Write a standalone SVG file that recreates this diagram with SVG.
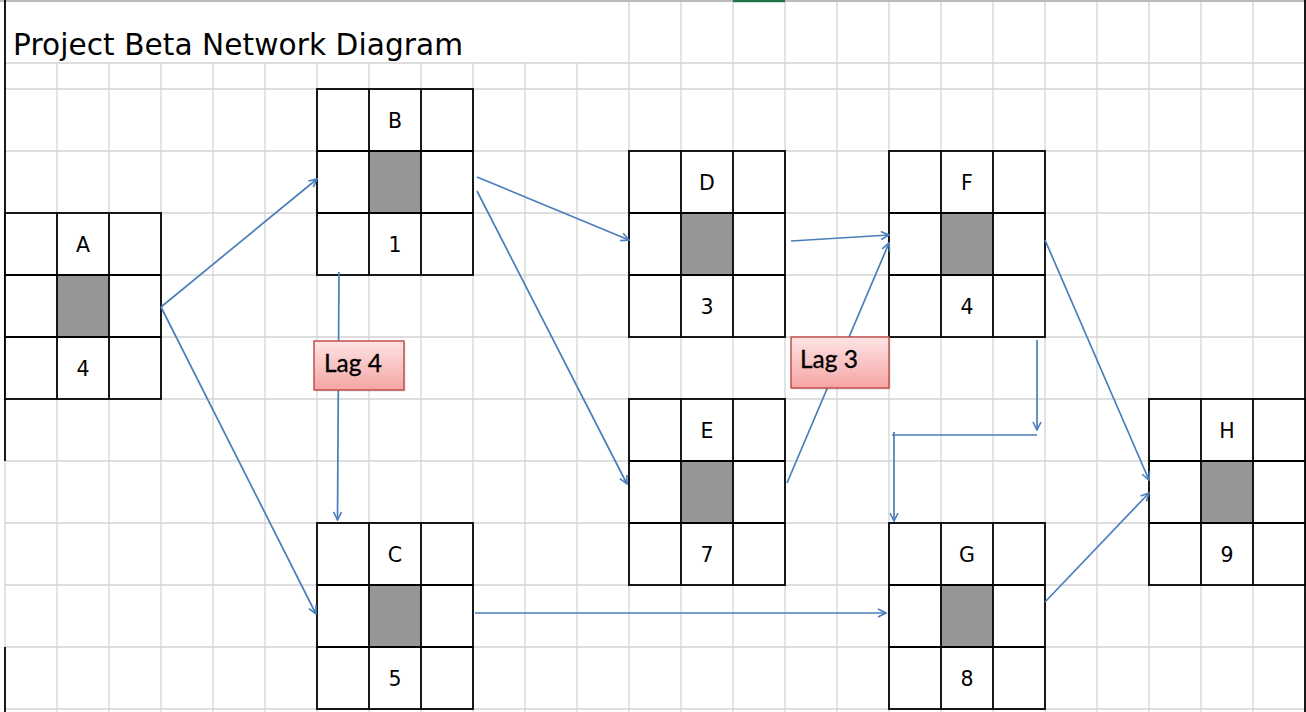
<svg xmlns="http://www.w3.org/2000/svg" width="1306" height="712" viewBox="0 0 1306 712">
<defs>
<style>
.grid{stroke:#d4d4d4;stroke-width:1.3;fill:none}
.cell{fill:#fff;stroke:#000;stroke-width:1.8}
.ln{stroke:#000;stroke-width:1.8}
.mid{fill:#969696}
.lbl{font-family:"DejaVu Sans","Verdana",sans-serif;font-size:20.5px;fill:#000;text-anchor:middle}
.con{stroke:#4a7ebb;stroke-width:1.7;fill:none}
.arr{marker-end:url(#ah)}
.lag{fill:url(#pink);stroke:#c0504d;stroke-width:1.5}
.lagt{font-family:Lato,"Open Sans",sans-serif;font-size:24.5px;fill:#000;stroke:#000;stroke-width:0.3}
</style>
<linearGradient id="pink" x1="0" y1="0" x2="0" y2="1">
<stop offset="0" stop-color="#fde4e4"/>
<stop offset="1" stop-color="#f6a4a4"/>
</linearGradient>
<marker id="ah" viewBox="0 0 10 10" refX="9" refY="5" markerWidth="10" markerHeight="10" markerUnits="userSpaceOnUse" orient="auto">
<path d="M1,1 L9,5 L1,9" fill="none" stroke="#4a7ebb" stroke-width="1.6"/>
</marker>
</defs>
<rect x="0" y="0" width="1306" height="712" fill="#fff"/>
<g id="sheet-grid">
<path class="grid" d="M57,63V712M109,63V712M161,63V712M213,63V712M265,63V712M317,63V712M369,63V712M421,63V712M473,63V712M525,63V712M577,63V712M629,2V712M681,2V712M733,2V712M785,2V712M837,2V712M889,2V712M941,2V712M993,2V712M1045,2V712M1097,2V712M1149,2V712M1201,2V712M1253,2V712"/>
<path class="grid" d="M5,63H1305M5,89H1305M5,151H1305M5,213H1305M5,275H1305M5,337H1305M5,399H1305M5,461H1305M5,523H1305M5,585H1305M5,647H1305M5,709H1305"/>
<path class="grid" d="M5,461V647"/>
<line x1="0" y1="1" x2="1306" y2="1" stroke="#bbbbbb" stroke-width="2"/>
<line x1="733" y1="1" x2="785" y2="1" stroke="#217346" stroke-width="2.5"/>
<path d="M5,0V461M5,647V712M1305,0V712" stroke="#000" stroke-width="1.8"/>
</g>
<text x="13" y="55" font-family="DejaVu Sans,Verdana,sans-serif" font-size="29.6" textLength="450" fill="#000">Project Beta Network Diagram</text>
<g id="node-A">
<rect class="cell" x="5" y="213" width="156" height="186"/>
<rect class="mid" x="57" y="275" width="52" height="62"/>
<path class="ln" d="M57,213V399M109,213V399M5,275H161M5,337H161"/>
<text class="lbl" x="83" y="251.5">A</text>
<text class="lbl" x="83" y="375.5">4</text>
</g>
<g id="node-B">
<rect class="cell" x="317" y="89" width="156" height="186"/>
<rect class="mid" x="369" y="151" width="52" height="62"/>
<path class="ln" d="M369,89V275M421,89V275M317,151H473M317,213H473"/>
<text class="lbl" x="395" y="127.5">B</text>
<text class="lbl" x="395" y="251.5">1</text>
</g>
<g id="node-C">
<rect class="cell" x="317" y="523" width="156" height="186"/>
<rect class="mid" x="369" y="585" width="52" height="62"/>
<path class="ln" d="M369,523V709M421,523V709M317,585H473M317,647H473"/>
<text class="lbl" x="395" y="561.5">C</text>
<text class="lbl" x="395" y="685.5">5</text>
</g>
<g id="node-D">
<rect class="cell" x="629" y="151" width="156" height="186"/>
<rect class="mid" x="681" y="213" width="52" height="62"/>
<path class="ln" d="M681,151V337M733,151V337M629,213H785M629,275H785"/>
<text class="lbl" x="707" y="189.5">D</text>
<text class="lbl" x="707" y="313.5">3</text>
</g>
<g id="node-E">
<rect class="cell" x="629" y="399" width="156" height="186"/>
<rect class="mid" x="681" y="461" width="52" height="62"/>
<path class="ln" d="M681,399V585M733,399V585M629,461H785M629,523H785"/>
<text class="lbl" x="707" y="437.5">E</text>
<text class="lbl" x="707" y="561.5">7</text>
</g>
<g id="node-F">
<rect class="cell" x="889" y="151" width="156" height="186"/>
<rect class="mid" x="941" y="213" width="52" height="62"/>
<path class="ln" d="M941,151V337M993,151V337M889,213H1045M889,275H1045"/>
<text class="lbl" x="967" y="189.5">F</text>
<text class="lbl" x="967" y="313.5">4</text>
</g>
<g id="node-G">
<rect class="cell" x="889" y="523" width="156" height="186"/>
<rect class="mid" x="941" y="585" width="52" height="62"/>
<path class="ln" d="M941,523V709M993,523V709M889,585H1045M889,647H1045"/>
<text class="lbl" x="967" y="561.5">G</text>
<text class="lbl" x="967" y="685.5">8</text>
</g>
<g id="node-H">
<rect class="cell" x="1149" y="399" width="156" height="186"/>
<rect class="mid" x="1201" y="461" width="52" height="62"/>
<path class="ln" d="M1201,399V585M1253,399V585M1149,461H1305M1149,523H1305"/>
<text class="lbl" x="1227" y="437.5">H</text>
<text class="lbl" x="1227" y="561.5">9</text>
</g>
<g id="connectors">
<line class="con arr" x1="161" y1="307" x2="317" y2="179"/>
<line class="con arr" x1="161" y1="307" x2="316" y2="614"/>
<line class="con arr" x1="339" y1="272" x2="337.5" y2="520"/>
<line class="con arr" x1="477" y1="177" x2="629" y2="240"/>
<line class="con arr" x1="477" y1="191" x2="627" y2="484"/>
<line class="con arr" x1="791" y1="241" x2="889" y2="235"/>
<line class="con arr" x1="787" y1="483" x2="889" y2="243"/>
<line class="con arr" x1="1037" y1="340" x2="1037" y2="430"/>
<line class="con" x1="1037" y1="435" x2="892" y2="435"/>
<line class="con arr" x1="894" y1="432" x2="894" y2="521"/>
<line class="con arr" x1="475" y1="613" x2="886" y2="613"/>
<line class="con arr" x1="1045" y1="240" x2="1149" y2="480"/>
<line class="con arr" x1="1045" y1="602" x2="1149" y2="493"/>
</g>
<g id="lag-4">
<rect x="315.5" y="342.5" width="90" height="49" fill="#000" opacity="0.12"/>
<rect class="lag" x="314" y="341" width="90" height="49"/>
<text class="lagt" x="324" y="372">Lag 4</text>
</g>
<g id="lag-3">
<rect x="792.5" y="338.5" width="98" height="51" fill="#000" opacity="0.12"/>
<rect class="lag" x="791" y="337" width="98" height="51"/>
<text class="lagt" x="800" y="368">Lag 3</text>
</g>
</svg>
